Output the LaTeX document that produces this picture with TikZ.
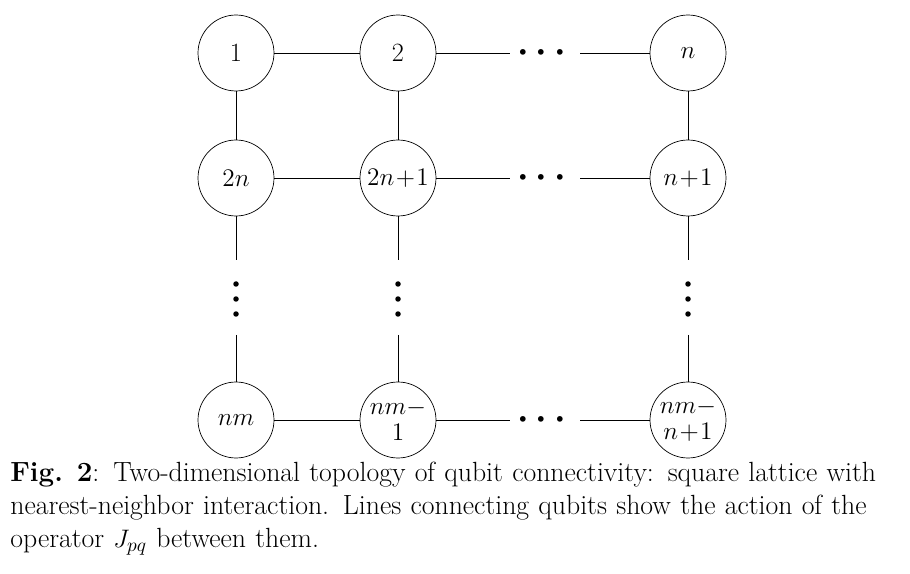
\documentclass[tikz,border=0pt]{standalone}
\usepackage{amsmath}
\usetikzlibrary{positioning}
\tikzset{
  qubit/.style={circle, draw, minimum size=1.52cm, inner sep=0pt, font=\fontsize{15}{17}\selectfont, align=center},
  hdots/.style={font=\fontsize{22}{22}\selectfont\bfseries, inner sep=0pt},
}
\begin{document}
\begin{tikzpicture}[x=0.02cm, y=-0.02cm]
  \useasboundingbox (0,0) rectangle (910,574);
  % qubit nodes
  \node[qubit] (q1)  at (236,53)  {1};
  \node[qubit] (q2)  at (398,53)  {2};
  \node[qubit] (qn)  at (688,53)  {$n$};
  \node[qubit] (q2n) at (236,178) {$2n$};
  \node[qubit] (q2n1) at (398,178) {$2n\!+\!1$};
  \node[qubit] (qn1) at (688,178) {$n\!+\!1$};
  \node[qubit] (qnm) at (236,420) {$nm$};
  \node[qubit] (qnm1) at (398,420) {$nm-$\\[-2pt]$1$};
  \node[qubit] (qnmn) at (688,420) {$nm-$\\[-2pt]$n\!+\!1$};
  % dots
  \node[hdots] (d1) at (545,53)  {$\boldsymbol{\cdots}$};
  \node[hdots] (d2) at (545,178) {$\boldsymbol{\cdots}$};
  \node[hdots] (d3) at (545,420) {$\boldsymbol{\cdots}$};
  \foreach \x in {236,398,688}
    \foreach \y in {284,299,314}
      \fill (\x,\y) circle (0.055cm);
  \coordinate (a1) at (510,53);  \coordinate (b1) at (580,53);
  \coordinate (a2) at (510,178); \coordinate (b2) at (580,178);
  \coordinate (a3) at (510,420); \coordinate (b3) at (580,420);
  \coordinate (u1) at (236,260); \coordinate (w1) at (236,335);
  \coordinate (u2) at (398,260); \coordinate (w2) at (398,335);
  \coordinate (u3) at (688,260); \coordinate (w3) at (688,335);
  % horizontal links
  \draw (q1) -- (q2);
  \draw (q2) -- (a1); \draw (b1) -- (qn);
  \draw (q2n) -- (q2n1);
  \draw (q2n1) -- (a2); \draw (b2) -- (qn1);
  \draw (qnm) -- (qnm1);
  \draw (qnm1) -- (a3); \draw (b3) -- (qnmn);
  % vertical links
  \draw (q1) -- (q2n);  \draw (q2) -- (q2n1);  \draw (qn) -- (qn1);
  \draw (q2n) -- (u1);  \draw (w1) -- (qnm);
  \draw (q2n1) -- (u2); \draw (w2) -- (qnm1);
  \draw (qn1) -- (u3);  \draw (w3) -- (qnmn);
  % caption
  \node[anchor=north west, text width=17.9cm, inner sep=0pt, align=left,
        font=\fontsize{15.8}{18.8}\selectfont] (cap) at (10,462)
    {\textbf{Fig. 2}: Two-dimensional topology of qubit connectivity: square lattice with nearest-neighbor interaction. Lines connecting qubits show the action of the operator $J_{pq}$ between them.};
\end{tikzpicture}
\end{document}
